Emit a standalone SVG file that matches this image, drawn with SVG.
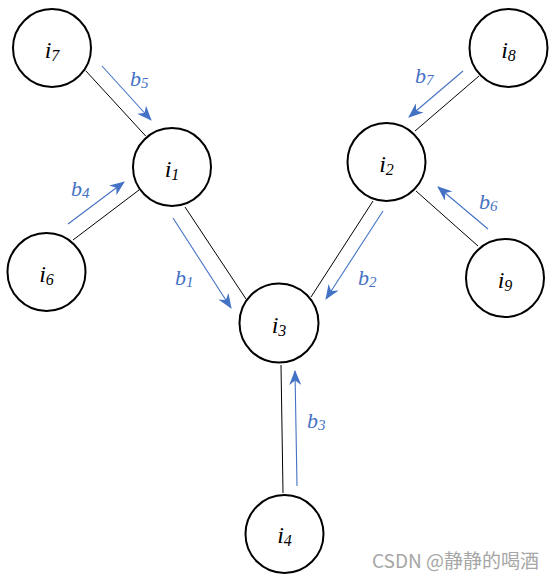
<svg xmlns="http://www.w3.org/2000/svg" width="558" height="581" viewBox="0 0 558 581">
<defs>
<style>
.node{fill:#fff;stroke:#000;stroke-width:2}
.edge{stroke:#000;stroke-width:1;fill:none}
.flow{stroke:#4472C4;stroke-width:1.1;fill:none;marker-end:url(#ah)}
</style>
<marker id="ah" markerUnits="userSpaceOnUse" markerWidth="15" markerHeight="12" viewBox="0 0 15 12" refX="14" refY="6" orient="auto">
<path d="M0,0 L15,6 L0,12 L4.5,6 z" fill="#4472C4"/>
</marker>
</defs>
<rect width="558" height="581" fill="#fff"/>
<g id="connectors">
<line class="edge" x1="85.7" y1="70.7" x2="145.7" y2="136"/>
<line class="edge" x1="73" y1="240" x2="139" y2="190"/>
<line class="edge" x1="185" y1="207" x2="246" y2="299"/>
<line class="edge" x1="479" y1="76" x2="415" y2="131"/>
<line class="edge" x1="416" y1="191" x2="478" y2="246"/>
<line class="edge" x1="373" y1="201" x2="311" y2="297"/>
<line class="edge" x1="281" y1="365" x2="283" y2="493"/>
<line class="flow" x1="102" y1="66" x2="151" y2="120"/>
<line class="flow" x1="68" y1="224" x2="124" y2="182"/>
<line class="flow" x1="173" y1="218" x2="231" y2="308"/>
<line class="flow" x1="463" y1="71" x2="409" y2="117"/>
<line class="flow" x1="488" y1="229" x2="438" y2="187"/>
<line class="flow" x1="383" y1="211" x2="326" y2="299"/>
<line class="flow" x1="297" y1="486" x2="295" y2="371"/>
<g font-family="Liberation Serif, serif" font-style="italic" font-size="22" fill="#4472C4">
<text x="130" y="86">b<tspan font-size="15" dy="2">5</tspan></text>
<text x="71" y="196">b<tspan font-size="15" dy="2">4</tspan></text>
<text x="175" y="285">b<tspan font-size="15" dy="2">1</tspan></text>
<text x="415" y="83">b<tspan font-size="15" dy="2">7</tspan></text>
<text x="479" y="209">b<tspan font-size="15" dy="2">6</tspan></text>
<text x="358" y="285">b<tspan font-size="15" dy="2">2</tspan></text>
<text x="307" y="428">b<tspan font-size="15" dy="2">3</tspan></text>
</g>
</g>
<g font-family="Liberation Serif, serif" font-style="italic" font-size="24" fill="#000" text-anchor="middle">
<g id="i7"><circle class="node" cx="52" cy="48" r="39"/><text x="52" y="58">i<tspan font-size="16" dy="3">7</tspan></text></g>
<g id="i1"><circle class="node" cx="172" cy="167" r="39"/><text x="172" y="177">i<tspan font-size="16" dy="3">1</tspan></text></g>
<g id="i6"><circle class="node" cx="46.5" cy="272" r="39"/><text x="46.5" y="282">i<tspan font-size="16" dy="3">6</tspan></text></g>
<g id="i8"><circle class="node" cx="508.5" cy="48" r="39"/><text x="508.5" y="58">i<tspan font-size="16" dy="3">8</tspan></text></g>
<g id="i2"><circle class="node" cx="386.5" cy="162" r="39"/><text x="386.5" y="172">i<tspan font-size="16" dy="3">2</tspan></text></g>
<g id="i9"><circle class="node" cx="505" cy="278" r="39"/><text x="505" y="288">i<tspan font-size="16" dy="3">9</tspan></text></g>
<g id="i3"><circle class="node" cx="279" cy="323" r="39.5"/><text x="279" y="333">i<tspan font-size="16" dy="3">3</tspan></text></g>
<g id="i4"><circle class="node" cx="284.5" cy="534" r="39"/><text x="284.5" y="543">i<tspan font-size="16" dy="3">4</tspan></text></g>
</g>
<text x="372" y="568" font-family="Noto Sans CJK SC, Noto Sans, sans-serif" font-size="19" fill="#a6a6a6">CSDN @静静的喝酒</text>
</svg>
